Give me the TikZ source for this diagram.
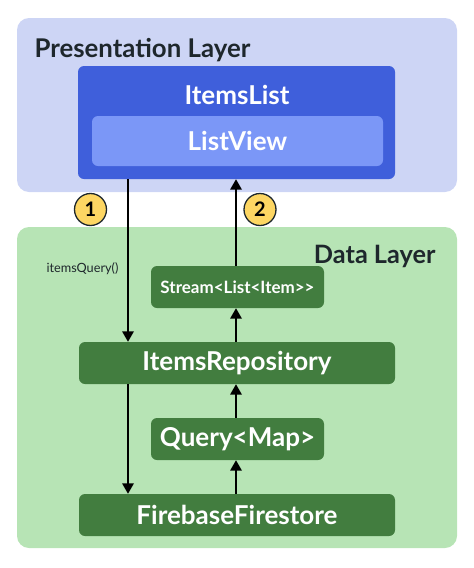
\documentclass[tikz,border=0pt]{standalone}
\usepackage{fontspec}
\setmainfont{Lato}
\usetikzlibrary{arrows.meta}

\definecolor{presbg}{HTML}{CDD5F5}
\definecolor{itemsblue}{HTML}{3F5FDB}
\definecolor{listblue}{HTML}{7B97F7}
\definecolor{databg}{HTML}{B7E4B5}
\definecolor{darkgreen}{HTML}{427D3F}
\definecolor{stepyellow}{HTML}{FDD663}
\definecolor{inkdark}{HTML}{1E272C}

\begin{document}
\begin{tikzpicture}[x=1pt,y=-1pt,
  layer/.style={rounded corners=12pt, inner sep=0pt},
  repobox/.style={fill=darkgreen, rounded corners=6pt, text=white, font=\fontsize{26}{29}\selectfont\bfseries, inner sep=0pt},
  flow/.style={line width=1.8pt, -{Triangle[length=10.5pt,width=11.5pt]}},
  stepnum/.style={circle, draw=inkdark, line width=1.3pt, fill=stepyellow, minimum size=32pt, inner sep=0pt, font=\fontsize{20}{22}\selectfont\bfseries}
]
\useasboundingbox (0,0) rectangle (474,568);

% layers
\node[layer, fill=presbg, minimum width=440pt, minimum height=174pt] (pres) at (237,105) {};
\node[layer, fill=databg, minimum width=440pt, minimum height=321pt] (data) at (237,387.5) {};
\node[anchor=base west, text=inkdark, font=\fontsize{25.8}{29}\selectfont\bfseries] (prestitle) at (31,57) {Presentation Layer};
\node[anchor=base east, text=inkdark, font=\fontsize{25.3}{29}\selectfont\bfseries] (datatitle) at (439,263) {Data Layer};

% presentation
\node[fill=itemsblue, rounded corners=6pt, minimum width=317pt, minimum height=113pt, inner sep=0pt] (itemslist) at (236.5,122.5) {};
\node[text=white, font=\fontsize{26}{29}\selectfont\bfseries] (itemstxt) at (237,95) {ItemsList};
\node[fill=listblue, rounded corners=6pt, minimum width=291pt, minimum height=50pt, text=white, font=\fontsize{26}{29}\selectfont\bfseries, inner sep=0pt] (listview) at (237.5,141) {ListView};

% data
\node[repobox, minimum width=173pt, minimum height=42pt, font=\fontsize{17}{20}\selectfont\bfseries] (stream) at (237.5,287) {Stream<List<Item>{}>};
\node[repobox, minimum width=316pt, minimum height=42pt] (repo) at (237,363) {ItemsRepository};
\node[repobox, minimum width=173pt, minimum height=42pt] (query) at (237.5,439) {Query<Map>};
\node[repobox, minimum width=316pt, minimum height=42pt] (fire) at (237,515) {FirebaseFirestore};

% arrows
\draw[flow] ([xshift=-108.5pt]itemslist.south) -- ([xshift=-109pt]repo.north);
\draw[flow] ([xshift=-109pt]repo.south) -- ([xshift=-109pt]fire.north);
\draw[flow] ([xshift=-1pt]fire.north) -- ([xshift=-1.5pt]query.south);
\draw[flow] ([xshift=-1.5pt]query.north) -- ([xshift=-1pt]repo.south);
\draw[flow] ([xshift=-1pt]repo.north) -- ([xshift=-1.5pt]stream.south);
\draw[flow] ([xshift=-1.5pt]stream.north) -- ([xshift=-0.5pt]itemslist.south);

\node[anchor=west, text=inkdark, font=\fontsize{12.7}{14}\selectfont] (querycall) at (43,269) {itemsQuery()};
\node[stepnum] (one) at (90.5,209.5) {1};
\node[stepnum] (two) at (260,209.5) {2};
\end{tikzpicture}
\end{document}
